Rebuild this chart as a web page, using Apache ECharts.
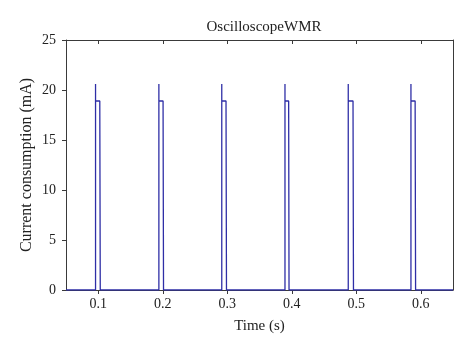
<!DOCTYPE html>
<html>
<head>
<meta charset="utf-8">
<script src="https://cdn.jsdelivr.net/npm/echarts@6/dist/echarts.min.js"></script>
<style>
  html, body { margin: 0; padding: 0; background: #fff; }
  #chart { width: 474px; height: 353px; }
</style>
</head>
<body>
<div id="chart"></div>
<script>
// waveform (time in s, current in mA)
var timeS = [
  0.05,
  0.0958, 0.0958, 0.0958, 0.1024, 0.1024, 0.1031, 0.1031,
  0.1940, 0.1940, 0.1940, 0.2005, 0.2005, 0.2012, 0.2012,
  0.2915, 0.2915, 0.2915, 0.2981, 0.2981, 0.2988, 0.2988,
  0.3895, 0.3895, 0.3895, 0.3952, 0.3952, 0.3958, 0.3958,
  0.4876, 0.4876, 0.4876, 0.4950, 0.4950, 0.4957, 0.4957,
  0.5848, 0.5848, 0.5848, 0.5913, 0.5913, 0.5920, 0.5920,
  0.65
];
var currentMA = [
  0,
  0, 20.6, 18.9, 18.9, 18.4, 18.4, 0,
  0, 20.6, 18.9, 18.9, 18.4, 18.4, 0,
  0, 20.6, 18.9, 18.9, 18.4, 18.4, 0,
  0, 20.6, 18.9, 18.9, 18.4, 18.4, 0,
  0, 20.6, 18.9, 18.9, 18.4, 18.4, 0,
  0, 20.6, 18.9, 18.9, 18.4, 18.4, 0,
  0
];
var xTicks = [0.1, 0.2, 0.3, 0.4, 0.5, 0.6];

var points = [];
for (var i = 0; i < timeS.length; i++) {
  points.push([timeS[i], currentMA[i]]);
}

var fontFam = '"Liberation Serif", "DejaVu Serif", serif';
var axisCol = '#3a3a3a';

var myChart = echarts.init(document.getElementById('chart'));
var option = {
  animation: false,
  title: {
    text: 'OscilloscopeWMR',
    left: 259,
    textAlign: 'center',
    top: 15,
    textStyle: { fontFamily: fontFam, fontSize: 15, fontWeight: 'normal', color: '#222' }
  },
  grid: { left: 66, right: 21, top: 40, bottom: 63 },
  xAxis: [{
    type: 'value',
    min: 0.05,
    max: 0.65,
    name: 'Time (s)',
    nameLocation: 'middle',
    nameGap: 29,
    nameTextStyle: { fontFamily: fontFam, fontSize: 15, color: '#222' },
    axisLine: { show: true, onZero: false, lineStyle: { color: axisCol, width: 1 } },
    axisTick: { show: true, inside: false, length: 4, customValues: xTicks, lineStyle: { color: axisCol } },
    axisLabel: { customValues: xTicks, fontFamily: fontFam, fontSize: 14, color: '#222', margin: 7,
      formatter: function (v) { return v.toFixed(1); } },
    splitLine: { show: false }
  }, {
    type: 'value',
    position: 'top',
    min: 0.05,
    max: 0.65,
    axisLine: { show: true, onZero: false, lineStyle: { color: axisCol, width: 1 } },
    axisTick: { show: true, inside: true, length: 4, customValues: xTicks, lineStyle: { color: axisCol } },
    axisLabel: { show: false },
    splitLine: { show: false }
  }],
  yAxis: [{
    type: 'value',
    min: 0,
    max: 25,
    interval: 5,
    name: 'Current consumption (mA)',
    nameLocation: 'middle',
    nameGap: 31,
    nameMoveOverlap: false,
    nameTextStyle: { fontFamily: fontFam, fontSize: 16, color: '#222' },
    axisLine: { show: true, onZero: false, lineStyle: { color: axisCol, width: 1 } },
    axisTick: { show: true, inside: false, length: 4, lineStyle: { color: axisCol } },
    axisLabel: { fontFamily: fontFam, fontSize: 14, color: '#222', margin: 10 },
    splitLine: { show: false }
  }, {
    type: 'value',
    position: 'right',
    min: 0,
    max: 25,
    axisLine: { show: true, onZero: false, lineStyle: { color: axisCol, width: 1 } },
    axisTick: { show: false },
    axisLabel: { show: false },
    splitLine: { show: false }
  }],
  series: [{
    type: 'line',
    data: points,
    xAxisIndex: 0,
    yAxisIndex: 0,
    showSymbol: false,
    lineStyle: { color: '#2e2ea6', width: 1.3 },
    z: 5
  }]
};
myChart.setOption(option);
</script>
</body>
</html>
